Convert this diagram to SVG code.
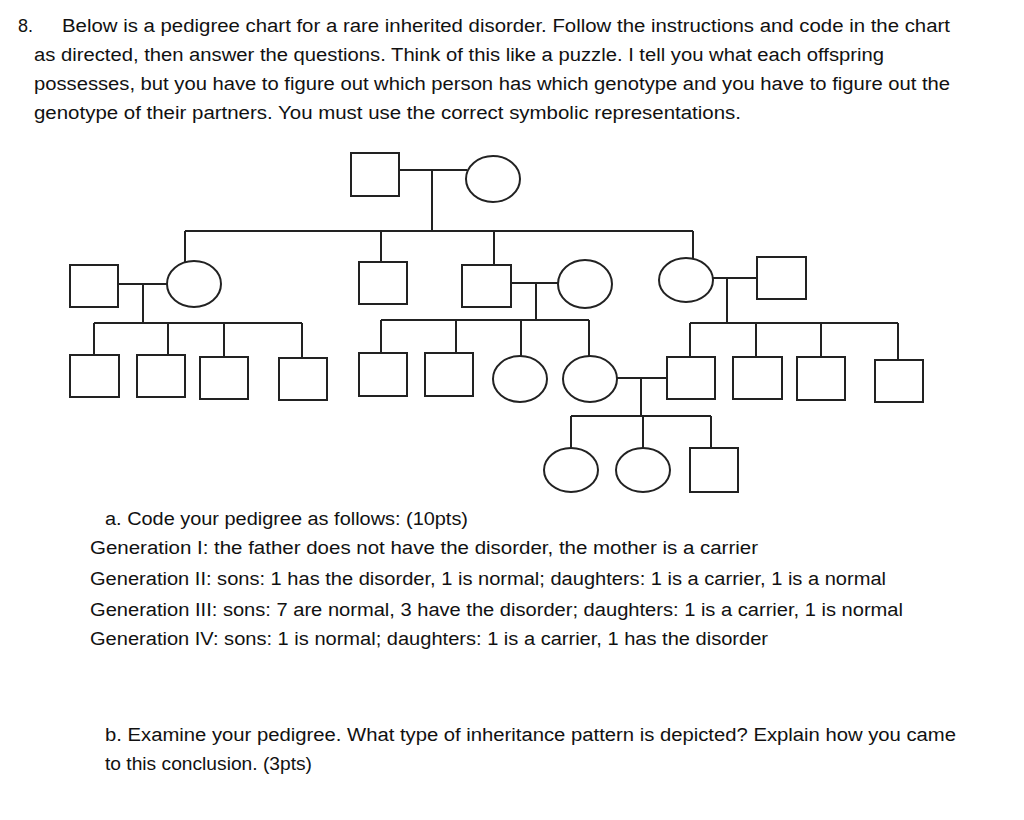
<svg xmlns="http://www.w3.org/2000/svg" width="1024" height="820" viewBox="0 0 1024 820">
<style>
text{font-family:"Liberation Sans","Open Sans",sans-serif;font-size:18px;fill:#111}
.n{fill:#fff;stroke:#222;stroke-width:2}
.c line{stroke:#222;stroke-width:2}
</style>
<rect width="1024" height="820" fill="#fff"/>
<text x="18" y="32">8.</text>
<text x="62" y="32" textLength="888" lengthAdjust="spacingAndGlyphs">Below is a pedigree chart for a rare inherited disorder. Follow the instructions and code in the chart</text>
<text x="34" y="61" textLength="850" lengthAdjust="spacingAndGlyphs">as directed, then answer the questions. Think of this like a puzzle. I tell you what each offspring</text>
<text x="34" y="90" textLength="916" lengthAdjust="spacingAndGlyphs">possesses, but you have to figure out which person has which genotype and you have to figure out the</text>
<text x="34" y="119" textLength="707" lengthAdjust="spacingAndGlyphs">genotype of their partners. You must use the correct symbolic representations.</text>
<g class="c" id="connectors">
<line x1="399" y1="170" x2="467" y2="170"/><line x1="432" y1="170" x2="432" y2="231"/>
<line x1="185" y1="231" x2="693" y2="231"/>
<line x1="185" y1="231" x2="185" y2="262"/><line x1="381" y1="231" x2="381" y2="262"/><line x1="494" y1="231" x2="494" y2="265"/><line x1="693" y1="231" x2="693" y2="258"/>
<line x1="118" y1="284" x2="167" y2="284"/><line x1="143" y1="284" x2="143" y2="323"/>
<line x1="94" y1="323" x2="302" y2="323"/>
<line x1="94" y1="323" x2="94" y2="355"/><line x1="168" y1="323" x2="168" y2="355"/><line x1="224" y1="323" x2="224" y2="357"/><line x1="302" y1="323" x2="302" y2="358"/>
<line x1="511" y1="283" x2="558" y2="283"/><line x1="536" y1="283" x2="536" y2="320"/>
<line x1="381" y1="320" x2="589" y2="320"/>
<line x1="381" y1="320" x2="381" y2="353"/><line x1="456" y1="320" x2="456" y2="353"/><line x1="521" y1="320" x2="521" y2="357"/><line x1="589" y1="320" x2="589" y2="357"/>
<line x1="713" y1="278" x2="757" y2="278"/><line x1="727" y1="278" x2="727" y2="323"/>
<line x1="690" y1="323" x2="898" y2="323"/>
<line x1="690" y1="323" x2="690" y2="357"/><line x1="756" y1="323" x2="756" y2="357"/><line x1="821" y1="323" x2="821" y2="357"/><line x1="898" y1="323" x2="898" y2="360"/>
<line x1="617" y1="378" x2="667" y2="378"/><line x1="641" y1="378" x2="641" y2="416"/>
<line x1="571" y1="416" x2="711" y2="416"/>
<line x1="571" y1="416" x2="571" y2="448"/><line x1="643" y1="416" x2="643" y2="448"/><line x1="711" y1="416" x2="711" y2="448"/>
</g>
<g id="g1-father"><rect class="n" x="351" y="153" width="48" height="43"/></g>
<g id="g1-mother"><ellipse class="n" cx="493" cy="179" rx="27" ry="23"/></g>
<g id="g2-husband1"><rect class="n" x="70" y="265" width="48" height="42"/></g>
<g id="g2-daughter1"><ellipse class="n" cx="194" cy="284" rx="27" ry="23"/></g>
<g id="g2-son1"><rect class="n" x="359" y="262" width="48" height="42"/></g>
<g id="g2-son2"><rect class="n" x="462" y="265" width="49" height="42"/></g>
<g id="g2-wife2"><ellipse class="n" cx="585" cy="284" rx="27" ry="24"/></g>
<g id="g2-daughter2"><ellipse class="n" cx="686" cy="280" rx="27" ry="22"/></g>
<g id="g2-husband2"><rect class="n" x="757" y="257" width="49" height="42"/></g>
<g id="g3-1"><rect class="n" x="70" y="355" width="49" height="42"/></g>
<g id="g3-2"><rect class="n" x="137" y="355" width="48" height="42"/></g>
<g id="g3-3"><rect class="n" x="200" y="357" width="48" height="42"/></g>
<g id="g3-4"><rect class="n" x="279" y="358" width="48" height="42"/></g>
<g id="g3-5"><rect class="n" x="359" y="353" width="48" height="43"/></g>
<g id="g3-6"><rect class="n" x="425" y="353" width="48" height="43"/></g>
<g id="g3-7"><ellipse class="n" cx="520" cy="379" rx="27" ry="23"/></g>
<g id="g3-8"><ellipse class="n" cx="590" cy="379" rx="27" ry="23"/></g>
<g id="g3-9"><rect class="n" x="667" y="357" width="48" height="42"/></g>
<g id="g3-10"><rect class="n" x="733" y="357" width="49" height="42"/></g>
<g id="g3-11"><rect class="n" x="797" y="357" width="48" height="43"/></g>
<g id="g3-12"><rect class="n" x="875" y="360" width="48" height="42"/></g>
<g id="g4-1"><ellipse class="n" cx="571" cy="470" rx="27" ry="22"/></g>
<g id="g4-2"><ellipse class="n" cx="643" cy="470" rx="27" ry="22"/></g>
<g id="g4-3"><rect class="n" x="690" y="448" width="48" height="44"/></g>
<text x="105" y="525" textLength="363" lengthAdjust="spacingAndGlyphs">a. Code your pedigree as follows: (10pts)</text>
<text x="90" y="554" textLength="668" lengthAdjust="spacingAndGlyphs">Generation I: the father does not have the disorder, the mother is a carrier</text>
<text x="90" y="585" textLength="796" lengthAdjust="spacingAndGlyphs">Generation II: sons: 1 has the disorder, 1 is normal; daughters: 1 is a carrier, 1 is a normal</text>
<text x="90" y="616" textLength="813" lengthAdjust="spacingAndGlyphs">Generation III: sons: 7 are normal, 3 have the disorder; daughters: 1 is a carrier, 1 is normal</text>
<text x="90" y="645" textLength="678" lengthAdjust="spacingAndGlyphs">Generation IV: sons: 1 is normal; daughters: 1 is a carrier, 1 has the disorder</text>
<text x="105" y="741" textLength="851" lengthAdjust="spacingAndGlyphs">b. Examine your pedigree. What type of inheritance pattern is depicted? Explain how you came</text>
<text x="105" y="770" textLength="207" lengthAdjust="spacingAndGlyphs">to this conclusion. (3pts)</text>
</svg>
